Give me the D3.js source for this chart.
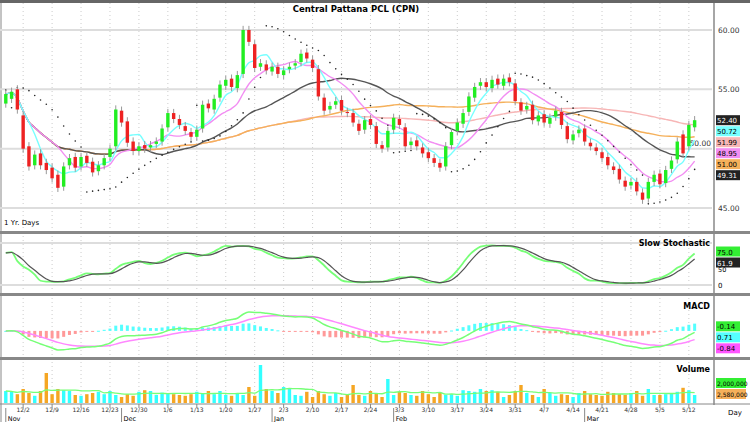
<!DOCTYPE html><html><head><meta charset="utf-8">
<script src="https://cdn.jsdelivr.net/npm/d3@7"></script>
<style>body{margin:0;background:#fff}svg{font-family:"DejaVu Sans",sans-serif}</style></head><body><svg id="c" width="750" height="422"></svg>
<script>
const closes=[54.6,54.8,53.3,50,48.5,49.5,48.6,48.2,47.5,46.7,48.5,49.2,48.4,49.3,48.8,48.0,48.6,49.2,50.0,53.3,52.2,50.5,49.8,50.2,50.0,50.3,50.6,51.7,53.0,52.5,52.0,51.5,51.0,51.6,53.7,53.4,54.2,55.4,55.8,55.2,56.2,60.0,59.0,56.8,57.2,56.6,56.9,56.3,56.6,56.9,57.2,58.0,57.6,56.8,54.4,53.2,53.6,54.0,53.2,53.0,52.2,51.5,52.4,52.0,50.4,50.0,51.5,52.6,52.0,50.2,50.6,50.2,49.6,49.2,48.8,48.4,50.2,51.4,52.2,53.0,54.4,55.2,55.6,55.2,55.8,55.4,55.9,55.6,54.0,53.2,53.6,52.4,52.8,52.2,52.6,53.2,52.0,50.8,51.2,51.6,50.6,50.2,49.8,49.2,48.6,48.2,47.4,46.8,47.2,46.4,45.7,47.2,47.8,47.0,48.2,49.0,50.6,49.6,52.0,52.4];
const opens=[53.8,54.2,55,52.8,50.2,48.6,49.6,48.8,48.4,47.8,46.8,48.6,49.3,48.5,49.4,48.9,48.1,48.6,49.3,50.2,53.2,52.3,50.6,49.8,50.3,50.1,50.4,50.6,51.8,53.0,52.5,51.9,51.4,51.0,51.7,53.8,53.3,54.3,55.3,55.9,55.1,56.3,60.0,58.8,56.9,57.1,56.5,56.9,56.2,56.7,57.0,57.3,58.1,57.5,56.7,54.3,53.3,53.7,54.1,53.1,53.0,52.1,51.6,52.5,51.9,50.3,50.1,51.6,52.5,51.8,50.3,50.7,50.1,49.7,49.2,48.8,48.5,50.3,51.5,52.1,53.1,54.3,55.3,55.6,55.1,55.9,55.3,56.0,55.5,53.9,53.3,53.7,52.3,52.9,52.1,52.7,53.1,51.9,50.7,51.3,51.7,50.5,50.1,49.7,49.3,48.5,48.3,47.3,46.9,47.2,46.3,45.8,47.2,47.9,47.1,48.3,49.1,51.2,50.2,51.8];
const volumes=[30,28,22,35,25,18,30,75,22,35,32,30,20,18,22,25,28,22,30,20,15,22,18,28,32,30,20,26,24,22,20,18,22,28,25,30,22,30,20,18,25,20,40,18,95,35,30,25,40,35,20,18,28,15,30,22,18,25,15,20,45,20,18,30,25,15,60,20,28,25,20,18,30,22,15,25,20,22,18,32,30,28,35,30,32,28,15,20,30,45,25,20,15,35,25,18,22,20,15,25,30,22,20,18,28,25,22,20,25,30,18,35,20,20,22,25,28,38,32,20];
const dateLabels=[[3,"12/2"],[8,"12/9"],[13,"12/16"],[18,"12/23"],[23,"12/30"],[28,"1/6"],[33,"1/13"],[38,"1/20"],[43,"1/27"],[48,"2/3"],[53,"2/10"],[58,"2/17"],[63,"2/24"],[68,"3/3"],[73,"3/10"],[78,"3/17"],[83,"3/24"],[88,"3/31"],[93,"4/7"],[98,"4/14"],[103,"4/21"],[108,"4/28"],[113,"5/5"],[118,"5/12"]];
const monthLabels=[[0,"Nov"],[20,"Dec"],[46,"Jan"],[67,"Feb"],[100,"Mar"]];
const priceTicks=[45,50,55,60];
const n=Math.min(closes.length,opens.length,volumes.length);
const W=712;
const svg=d3.select("#c");
const x=d3.scaleLinear().domain([-1,n+2]).range([0,W]);
const bw=3.4;
const panels=[{t:3,b:228},{t:236,b:292},{t:298,b:357},{t:362,b:403}];
svg.append("rect").attr("x",0).attr("y",0).attr("width",750).attr("height",422).attr("fill","#fff");
svg.append("rect").attr("x",0).attr("y",0).attr("width",750).attr("height",3).attr("fill","#666");
panels.forEach((p,i)=>{
 if(i>0)svg.append("rect").attr("x",0).attr("y",p.t-5).attr("width",750).attr("height",3).attr("fill","#888");
 dateLabels.forEach(d=>svg.append("line").attr("x1",x(d[0])).attr("x2",x(d[0])).attr("y1",p.t).attr("y2",p.b).attr("stroke","#ccc").attr("stroke-dasharray","1,3"));
});
svg.append("line").attr("x1",W+2).attr("x2",W+2).attr("y1",3).attr("y2",405).attr("stroke","#888").attr("stroke-width",1.5);
svg.append("line").attr("x1",0).attr("x2",750).attr("y1",404).attr("y2",404).attr("stroke","#888");
svg.append("line").attr("x1",1).attr("x2",1).attr("y1",3).attr("y2",422).attr("stroke","#888");
const y=d3.scaleLinear().domain([45,60]).range([208,30]);
priceTicks.forEach(v=>{svg.append("line").attr("x1",0).attr("x2",W).attr("y1",y(v)).attr("y2",y(v)).attr("stroke","#ddd").attr("stroke-width",2);
 const t=svg.append("text").attr("y",v==50?y(v)-3:y(v)+3).attr("font-size",7.5).attr("fill","#333").text(v.toFixed(2));
 if(v==50)t.attr("x",W-1).attr("text-anchor","end");else t.attr("x",W+6);});
const ma=(arr,k)=>arr.map((_,i)=>{const s=arr.slice(Math.max(0,i-k+1),i+1);return d3.mean(s);});
const lineP=(arr,sc)=>d3.line().x((d,i)=>x(i)).y(d=>sc(d)).curve(d3.curveMonotoneX)(arr);
const C=closes.slice(0,n),O=opens.slice(0,n);
const mas=[[75,"#f7b6b6"],[50,"#f5b05a"],[25,"#555"],[10,"#f28ef2"],[5,"#7ff"]];
mas.forEach(m=>svg.append("path").attr("d",lineP(ma(C,m[0]),y)).attr("fill","none").attr("stroke",m[1]).attr("stroke-width",1.4));
const H=C.map((c,i)=>Math.max(c,O[i])+0.35),L=C.map((c,i)=>Math.min(c,O[i])-0.35);
let sar=[],up=false,af=0.02,ep=L[0],s=H[0];
for(let i=0;i<n;i++){ if(i>0){s=s+af*(ep-s);
  if(up){if(L[i]<s){up=false;s=ep;ep=L[i];af=0.02;}else if(H[i]>ep){ep=H[i];af=Math.min(af+0.02,0.2);}}
  else{if(H[i]>s){up=true;s=ep;ep=H[i];af=0.02;}else if(L[i]<ep){ep=L[i];af=Math.min(af+0.02,0.2);}}}
 sar.push(s);}
sar.forEach((v,i)=>svg.append("circle").attr("cx",x(i)).attr("cy",y(v)).attr("r",0.8).attr("fill","#222"));
C.forEach((c,i)=>{const o=O[i],col=c>=o?"#22ee22":"#ee2222";
 svg.append("line").attr("x1",x(i)).attr("x2",x(i)).attr("y1",y(H[i])).attr("y2",y(L[i])).attr("stroke","#999");
 svg.append("rect").attr("x",x(i)-bw/2).attr("y",y(Math.max(o,c))).attr("width",bw).attr("height",Math.max(1,Math.abs(y(o)-y(c)))).attr("fill",col);});
svg.append("text").attr("x",W/2).attr("y",12).attr("text-anchor","middle").attr("font-size",8.5).attr("font-weight","bold").text("Central Pattana PCL (CPN)");
svg.append("text").attr("x",4).attr("y",225).attr("font-size",7).text("1 Yr. Days");
const lastBox=(yy,col,txt,tc,w)=>{w=w||24;svg.append("rect").attr("x",W+4).attr("y",yy-5).attr("width",w).attr("height",10).attr("fill",col);
 svg.append("text").attr("x",W+5).attr("y",yy+3).attr("font-size",w>24?6:7).attr("fill",tc||"#000").text(txt);};
lastBox(y(C[n-1]),"#222",C[n-1].toFixed(2),"#fff");
[["#7ff",5],["#f7b6b6",75],["#f28ef2",10],["#f5b05a",50],["#222",25]].forEach((m,k)=>{const v=ma(C,m[1])[n-1];lastBox(y(C[n-1])+11*(k+1),m[0],v.toFixed(2),m[0]=="#222"?"#fff":"#000");});
const ys=d3.scaleLinear().domain([0,100]).range([285,243]);
const rawK=C.map((c,i)=>{const hh=d3.max(H.slice(Math.max(0,i-19),i+1)),ll=d3.min(L.slice(Math.max(0,i-19),i+1));return 100*(c-ll)/(hh-ll);});
const K=ma(rawK,5),D=ma(K,3);
[0,100].forEach(v=>svg.append("line").attr("x1",0).attr("x2",W).attr("y1",ys(v)).attr("y2",ys(v)).attr("stroke","#ddd").attr("stroke-width",2));
svg.append("path").attr("d",lineP(K,ys)).attr("fill","none").attr("stroke","#7f7").attr("stroke-width",1.8);
svg.append("path").attr("d",lineP(D,ys)).attr("fill","none").attr("stroke","#555").attr("stroke-width",1.2);
svg.append("text").attr("x",W-2).attr("y",246).attr("text-anchor","end").attr("font-size",8).attr("font-weight","bold").text("Slow Stochastic");
lastBox(ys(K[n-1])-2,"#3e3",K[n-1].toFixed(1));lastBox(ys(K[n-1])+9,"#222",D[n-1].toFixed(1),"#fff");
svg.append("text").attr("x",W+6).attr("y",ys(50)+8).attr("font-size",6.5).text("50");
svg.append("text").attr("x",W+6).attr("y",ys(0)+3).attr("font-size",7).text("0");
const ema=(a,k)=>{const al=2/(k+1);let e=a[0];return a.map(v=>e=e+al*(v-e));};
const e12=ema(C,12),e26=ema(C,26),macd=e12.map((v,i)=>v-e26[i]),sig=ema(macd,9),hist=macd.map((v,i)=>v-sig[i]);
const ym=d3.scaleLinear().domain([d3.min(macd.concat(sig))-0.2,d3.max(macd.concat(sig))+0.2]).range([352,310]);
hist.forEach((h,i)=>svg.append("rect").attr("x",x(i)-1.5).attr("y",Math.min(ym(0),ym(h))).attr("width",3).attr("height",Math.max(1,Math.abs(ym(h)-ym(0)))).attr("fill",h>=0?"#5ff":"#f99"));
svg.append("path").attr("d",lineP(sig,ym)).attr("fill","none").attr("stroke","#f8f").attr("stroke-width",1.5);
svg.append("path").attr("d",lineP(macd,ym)).attr("fill","none").attr("stroke","#7f7").attr("stroke-width",1.5);
svg.append("text").attr("x",W-2).attr("y",309).attr("text-anchor","end").attr("font-size",8).attr("font-weight","bold").text("MACD");
lastBox(ym(macd[n-1])-6,"#3e3",macd[n-1].toFixed(2));lastBox(ym(macd[n-1])+5,"#5ff",hist[n-1].toFixed(2));lastBox(ym(macd[n-1])+16,"#f5f",sig[n-1].toFixed(2));
const yv=d3.scaleLinear().domain([0,100]).range([403,363]);
volumes.slice(0,n).forEach((v,i)=>svg.append("rect").attr("x",x(i)-1.7).attr("y",yv(v)).attr("width",3.4).attr("height",yv(0)-yv(v)).attr("fill",C[i]>=O[i]?"#3ff":"#f5a623"));
svg.append("path").attr("d",lineP(ma(volumes.slice(0,n),10),yv)).attr("fill","none").attr("stroke","#7f7").attr("stroke-width",1.3);
svg.append("text").attr("x",W-2).attr("y",372).attr("text-anchor","end").attr("font-size",8).attr("font-weight","bold").text("Volume");
lastBox(383,"#3e3",(volumes[n-1]*100000).toLocaleString("en"),"#000",30);lastBox(394,"#f5b05a",Math.round(ma(volumes,10)[n-1]*100000).toLocaleString("en"),"#000",30);
dateLabels.forEach(d=>{svg.append("line").attr("x1",x(d[0])).attr("x2",x(d[0])).attr("y1",404).attr("y2",408).attr("stroke","#888");
 svg.append("text").attr("x",x(d[0])).attr("y",412).attr("text-anchor","middle").attr("font-size",6).attr("fill","#333").text(d[1]);});
monthLabels.forEach(d=>{svg.append("line").attr("x1",x(d[0])).attr("x2",x(d[0])).attr("y1",408).attr("y2",422).attr("stroke","#888");
 svg.append("text").attr("x",x(d[0])+2).attr("y",421).attr("font-size",6.5).text(d[1]);});
svg.append("text").attr("x",735).attr("y",415).attr("text-anchor","middle").attr("font-size",7).text("Day");
</script></body></html>
